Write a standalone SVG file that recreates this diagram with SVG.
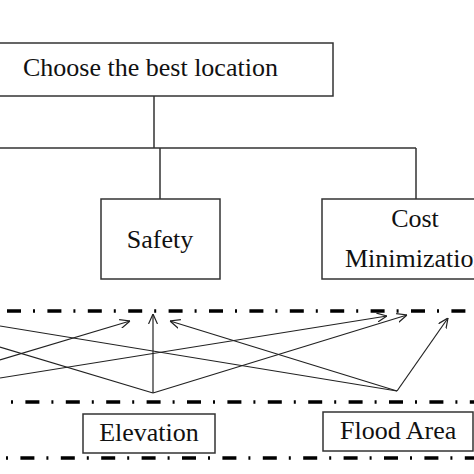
<svg xmlns="http://www.w3.org/2000/svg" width="474" height="474" viewBox="0 0 474 474">
  <style>
    .box { fill: #ffffff; stroke: #333333; stroke-width: 1.5; }
    .lbl { font-family: "Liberation Serif", "Times New Roman", serif; font-size: 26px; fill: #111111; }
    .tree { fill: none; stroke: #333333; stroke-width: 1.5; }
    .arr { fill: none; stroke: #222222; stroke-width: 1.2; marker-end: url(#ah); }
    .ln { fill: none; stroke: #222222; stroke-width: 1.2; }
    .sep { fill: none; stroke: #000000; stroke-width: 3.5; stroke-dasharray: 14 12 2 12.4; }
  </style>
  <defs>
    <marker id="ah" viewBox="0 0 10 10" refX="10" refY="5" markerWidth="10" markerHeight="10" markerUnits="userSpaceOnUse" orient="auto">
      <path d="M0,0.5 L10,5 L0,9.5" fill="none" stroke="#222222" stroke-width="1.2"/>
    </marker>
  </defs>
  <rect width="474" height="474" fill="#ffffff"/>

  <g id="separators">
    <line class="sep" x1="7" y1="311" x2="480" y2="311"/>
    <line class="sep" x1="-15" y1="402" x2="480" y2="402"/>
    <line class="sep" x1="-20" y1="458" x2="480" y2="458"/>
  </g>

  <g id="connectors">
    <path class="tree" d="M154,96 V148 M0,148 H416 M160,148 V199 M416,148 V199"/>
    <line class="ln" x1="0" y1="326" x2="397" y2="391"/>
    <line class="ln" x1="0" y1="347" x2="153" y2="393"/>
    <line class="arr" x1="0" y1="360" x2="130" y2="321"/>
    <line class="arr" x1="0" y1="378" x2="387" y2="316"/>
    <line class="arr" x1="153" y1="393" x2="153" y2="314"/>
    <line class="arr" x1="153" y1="393" x2="407" y2="315"/>
    <line class="arr" x1="397" y1="391" x2="170" y2="321"/>
    <line class="arr" x1="397" y1="391" x2="448" y2="318"/>
  </g>

  <g id="goal">
    <rect class="box" x="-5" y="43" width="338" height="53"/>
    <text class="lbl" x="23" y="76">Choose the best location</text>
  </g>

  <g id="safety">
    <rect class="box" x="101" y="199" width="119" height="80"/>
    <text class="lbl" x="160" y="248" text-anchor="middle">Safety</text>
  </g>

  <g id="cost">
    <rect class="box" x="322" y="199" width="160" height="80"/>
    <text class="lbl" x="415" y="227" text-anchor="middle">Cost</text>
    <text class="lbl" x="345" y="267">Minimization</text>
  </g>

  <g id="elevation">
    <rect class="box" x="83" y="414" width="132" height="39"/>
    <text class="lbl" x="149" y="441" text-anchor="middle">Elevation</text>
  </g>

  <g id="flood">
    <rect class="box" x="323" y="412" width="150" height="39"/>
    <text class="lbl" x="340" y="439">Flood Area</text>
  </g>
</svg>
